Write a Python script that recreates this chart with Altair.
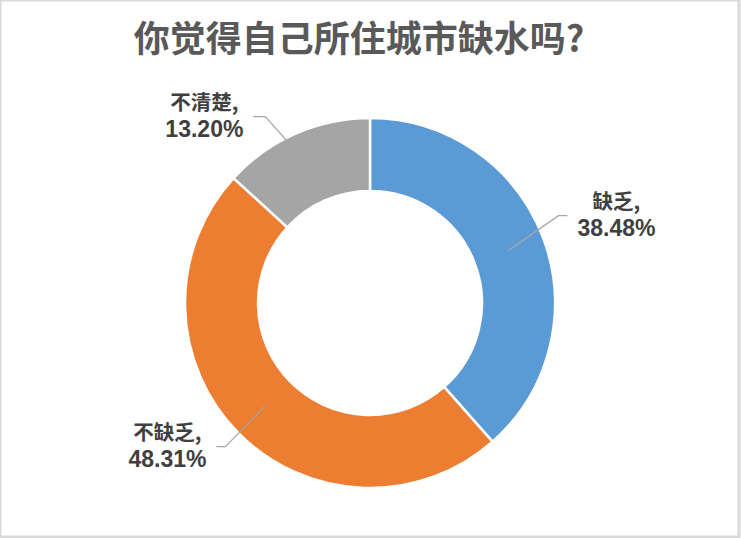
import math
import altair as alt
import pandas as pd

# ---- data ----
categories = ["缺乏", "不缺乏", "不清楚"]
percentages = [38.48, 48.31, 13.20]
colors = ["#5B9BD5", "#ED7D31", "#A5A5A5"]
title_text = "你觉得自己所住城市缺水吗?"

# ---- layout / style ----
W, H = 739, 537
CX, CY = 370, 303
R_OUT, R_IN = 185, 112
R_ANCHOR = (184 + R_IN) / 2
elbow_dx = [50, -39, -45]
elbow_dy = [-35, 40, -51]
run = [9, -9, -12]
label_gap = 49
LINE_H = 27
FONT = "Noto Sans CJK SC"

arc_df = pd.DataFrame({
    "category": categories,
    "value": percentages,
    "idx": list(range(len(categories))),
})

total = sum(percentages)
cum = 0.0
line_rows, name_rows, pct_rows = [], [], []
for i, (c, v) in enumerate(zip(categories, percentages)):
    mid = (cum + v / 2) / total * 2 * math.pi
    cum += v
    ax = CX + R_ANCHOR * math.sin(mid)
    ay = CY - R_ANCHOR * math.cos(mid)
    ex, ey = ax + elbow_dx[i], ay + elbow_dy[i]
    tx = ex + run[i]
    line_rows += [
        {"cat": c, "k": 0, "x": ax, "y": ay},
        {"cat": c, "k": 1, "x": ex, "y": ey},
        {"cat": c, "k": 2, "x": tx, "y": ey},
    ]
    lx = tx + (label_gap if run[i] > 0 else -label_gap)
    name_rows.append({"cat": c, "x": lx, "y": ey - LINE_H / 2 + 1, "text": f"{c},"})
    pct_rows.append({"cat": c, "x": lx, "y": ey + LINE_H / 2, "text": f"{v:.2f}%"})

lines_df = pd.DataFrame(line_rows)
names_df = pd.DataFrame(name_rows)
pcts_df = pd.DataFrame(pct_rows)

xs = alt.Scale(domain=[0, W], nice=False, zero=False)
ys = alt.Scale(domain=[0, H], nice=False, zero=False, reverse=True)

arc = alt.Chart(arc_df).mark_arc(
    innerRadius=R_IN, outerRadius=R_OUT, stroke="white", strokeWidth=2.5
).encode(
    theta=alt.Theta("value:Q", stack=True),
    color=alt.Color("category:N", scale=alt.Scale(domain=categories, range=colors), legend=None),
    order=alt.Order("idx:Q"),
    x=alt.value(CX),
    y=alt.value(CY),
)

leader = alt.Chart(lines_df).mark_line(color="#A6A6A6", strokeWidth=1.3).encode(
    x=alt.X("x:Q", scale=xs, axis=None),
    y=alt.Y("y:Q", scale=ys, axis=None),
    detail="cat:N",
    order="k:Q",
)

names = alt.Chart(names_df).mark_text(
    font=FONT, fontSize=20.5, fontWeight="bold", color="#404040",
    align="center", baseline="middle",
).encode(
    x=alt.X("x:Q", scale=xs, axis=None),
    y=alt.Y("y:Q", scale=ys, axis=None),
    text="text:N",
)

pcts = alt.Chart(pcts_df).mark_text(
    font="Liberation Sans", fontSize=23, fontWeight="bold", color="#404040",
    align="center", baseline="middle",
).encode(
    x=alt.X("x:Q", scale=xs, axis=None),
    y=alt.Y("y:Q", scale=ys, axis=None),
    text="text:N",
)

title = alt.Chart(pd.DataFrame({"t": [title_text]})).mark_text(
    font=FONT, fontSize=36, fontWeight="bold", color="#595959",
    align="center", baseline="middle",
).encode(
    x=alt.value(359),
    y=alt.value(41),
    text="t:N",
)

chart = alt.layer(arc, leader, names, pcts, title).properties(
    width=W, height=H,
    autosize=alt.AutoSizeParams(type="none"),
    padding={"left": 0, "top": 0, "right": 2, "bottom": 1},
    background="white",
).configure_view(stroke="#D9D9D9", strokeWidth=3)

chart.save("out.html", embed_options={"renderer": "svg", "actions": False})
